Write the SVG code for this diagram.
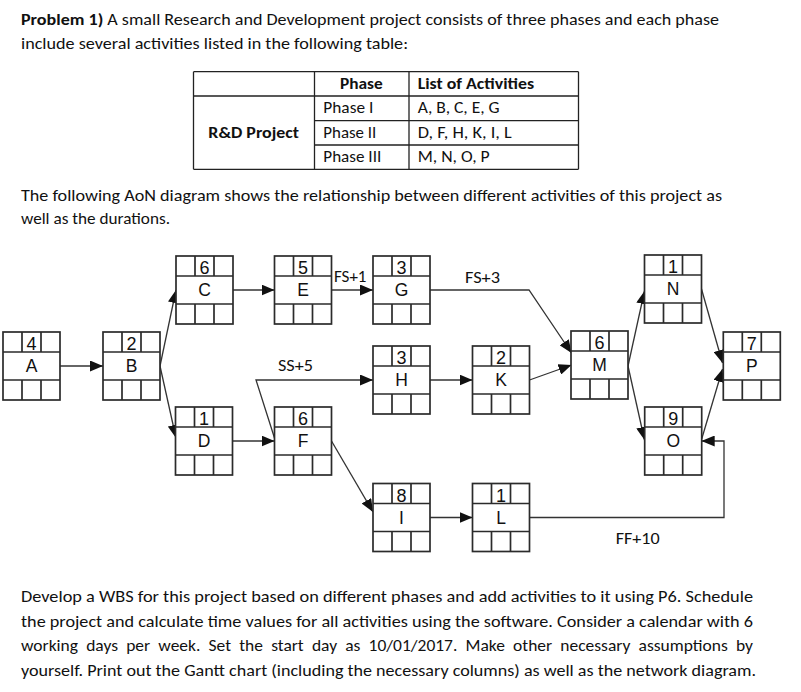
<svg xmlns="http://www.w3.org/2000/svg" xmlns:xlink="http://www.w3.org/1999/xlink" width="801" height="692" viewBox="0 0 801 692">
<style>
.p{font-family:Carlito,Lato,'Open Sans',sans-serif;font-size:16.5px;fill:#111}
.b{font-weight:bold}
.tb{stroke:#222;stroke-width:1.3;fill:none}
.bx{fill:#fff;stroke:#2b2b2b;stroke-width:1.7}
.ln{stroke:#2b2b2b;stroke-width:1.7;fill:none}
.d{font-family:'Liberation Sans',Arial,sans-serif;font-size:18px;fill:#111;text-anchor:middle}
.l{font-family:'Liberation Sans',Arial,sans-serif;font-size:17.5px;fill:#111;text-anchor:middle}
.c{stroke:#333;stroke-width:1.3;fill:none;marker-end:url(#ah)}
</style>
<defs>
<marker id="ah" markerUnits="userSpaceOnUse" viewBox="0 0 13 11" markerWidth="13" markerHeight="11" refX="13" refY="5.5" orient="auto">
<path d="M0,0 L13,5.5 L0,11 z" fill="#111"/>
</marker>
<g id="box">
<rect class="bx" x="0" y="0" width="57" height="68"/>
<path class="ln" d="M0,20 H57 M0,48 H57 M19,0 V20 M38,0 V20 M19,48 V68 M38,48 V68"/>
</g>
</defs>
<rect width="801" height="692" fill="#fff"/>

<g id="text-top">
<text class="p" x="21" y="25" textLength="698" lengthAdjust="spacingAndGlyphs"><tspan class="b">Problem 1)</tspan> A small Research and Development project consists of three phases and each phase</text>
<text class="p" x="21" y="49" textLength="387" lengthAdjust="spacingAndGlyphs">include several activities listed in the following table:</text>
<text class="p" x="21" y="201" textLength="701" lengthAdjust="spacingAndGlyphs">The following AoN diagram shows the relationship between different activities of this project as</text>
<text class="p" x="21" y="224" textLength="149" lengthAdjust="spacingAndGlyphs">well as the durations.</text>
</g>

<g id="table">
<path class="tb" d="M193.5,71.7 H578.5 M193.5,96 H578.5 M314.5,120.7 H578.5 M314.5,145 H578.5 M193.5,169.3 H578.5 M193.5,71.7 V169.3 M314.5,71.7 V169.3 M409,71.7 V169.3 M578.5,71.7 V169.3"/>
<text class="p b" x="340" y="88.5" textLength="42.7" lengthAdjust="spacingAndGlyphs">Phase</text>
<text class="p b" x="417.7" y="88.5" textLength="116.5" lengthAdjust="spacingAndGlyphs">List of Activities</text>
<text class="p" x="323.3" y="113.3" textLength="50" lengthAdjust="spacingAndGlyphs">Phase I</text>
<text class="p" x="417.7" y="113.3" textLength="82" lengthAdjust="spacingAndGlyphs">A, B, C, E, G</text>
<text class="p b" x="208.3" y="137.5" textLength="90.7" lengthAdjust="spacingAndGlyphs">R&amp;D Project</text>
<text class="p" x="323.3" y="137.5" textLength="53" lengthAdjust="spacingAndGlyphs">Phase II</text>
<text class="p" x="417.7" y="137.5" textLength="94" lengthAdjust="spacingAndGlyphs">D, F, H, K, I, L</text>
<text class="p" x="323.3" y="161.7" textLength="58" lengthAdjust="spacingAndGlyphs">Phase III</text>
<text class="p" x="417.7" y="161.7" textLength="72" lengthAdjust="spacingAndGlyphs">M, N, O, P</text>
</g>

<g id="connectors">
<path class="c" d="M60,366 L103,366"/>
<path class="c" d="M160,366 L176,290"/>
<path class="c" d="M160,366 L176,438"/>
<path class="c" d="M233,290 L274.5,290"/>
<path class="c" d="M331.5,290 L373,290"/>
<path class="c" d="M430,290 L529,290 L571.5,353"/>
<path class="c" d="M430,380 L472.5,380"/>
<path class="c" d="M529.5,380 L571.5,365"/>
<path class="c" d="M274.5,438 L256,380 L373,380"/>
<path class="c" d="M232.5,441 L274.5,441"/>
<path class="c" d="M331.5,441 L373,512"/>
<path class="c" d="M430,517.5 L472.5,517.5"/>
<path class="c" d="M529.5,517.5 L724,517.5 L724,441 L701.7,441"/>
<path class="c" d="M628,366 L644.5,291"/>
<path class="c" d="M628,366 L644.5,440"/>
<path class="c" d="M701.5,289 L722.5,363"/>
<path class="c" d="M701.7,439 L722.5,369"/>
<text class="p" x="334" y="282" textLength="32.5" lengthAdjust="spacingAndGlyphs">FS+1</text>
<text class="p" x="465" y="282.5" textLength="35" lengthAdjust="spacingAndGlyphs">FS+3</text>
<text class="p" x="278" y="370.5" textLength="35" lengthAdjust="spacingAndGlyphs">SS+5</text>
<text class="p" x="615.7" y="544" textLength="44" lengthAdjust="spacingAndGlyphs">FF+10</text>
</g>

<g id="node-A" transform="translate(3,332)"><use xlink:href="#box"/><text class="d" x="28.5" y="18">4</text><text class="l" x="28.5" y="40.3">A</text></g>
<g id="node-B" transform="translate(103,332)"><use xlink:href="#box"/><text class="d" x="28.5" y="18">2</text><text class="l" x="28.5" y="40.3">B</text></g>
<g id="node-C" transform="translate(176,256)"><use xlink:href="#box"/><text class="d" x="28.5" y="18">6</text><text class="l" x="28.5" y="40.3">C</text></g>
<g id="node-E" transform="translate(274.5,256)"><use xlink:href="#box"/><text class="d" x="28.5" y="18">5</text><text class="l" x="28.5" y="40.3">E</text></g>
<g id="node-G" transform="translate(373,256)"><use xlink:href="#box"/><text class="d" x="28.5" y="18">3</text><text class="l" x="28.5" y="40.3">G</text></g>
<g id="node-H" transform="translate(373,346)"><use xlink:href="#box"/><text class="d" x="28.5" y="18">3</text><text class="l" x="28.5" y="40.3">H</text></g>
<g id="node-K" transform="translate(472.5,346)"><use xlink:href="#box"/><text class="d" x="28.5" y="18">2</text><text class="l" x="28.5" y="40.3">K</text></g>
<g id="node-M" transform="translate(571,331)"><use xlink:href="#box"/><text class="d" x="28.5" y="18">6</text><text class="l" x="28.5" y="40.3">M</text></g>
<g id="node-N" transform="translate(644.5,255)"><use xlink:href="#box"/><text class="d" x="28.5" y="18">1</text><text class="l" x="28.5" y="40.3">N</text></g>
<g id="node-P" transform="translate(723.3,332)"><use xlink:href="#box"/><text class="d" x="28.5" y="18">7</text><text class="l" x="28.5" y="40.3">P</text></g>
<g id="node-D" transform="translate(175.5,407)"><use xlink:href="#box"/><text class="d" x="28.5" y="18">1</text><text class="l" x="28.5" y="40.3">D</text></g>
<g id="node-F" transform="translate(274.5,407)"><use xlink:href="#box"/><text class="d" x="28.5" y="18">6</text><text class="l" x="28.5" y="40.3">F</text></g>
<g id="node-I" transform="translate(373,483.5)"><use xlink:href="#box"/><text class="d" x="28.5" y="18">8</text><text class="l" x="28.5" y="40.3">I</text></g>
<g id="node-L" transform="translate(472.5,483.5)"><use xlink:href="#box"/><text class="d" x="28.5" y="18">1</text><text class="l" x="28.5" y="40.3">L</text></g>
<g id="node-O" transform="translate(644.7,407)"><use xlink:href="#box"/><text class="d" x="28.5" y="18">9</text><text class="l" x="28.5" y="40.3">O</text></g>

<g id="text-bottom">
<text class="p" x="21" y="602" textLength="732" lengthAdjust="spacingAndGlyphs">Develop a WBS for this project based on different phases and add activities to it using P6. Schedule</text>
<text class="p" x="21" y="626.5" textLength="732" lengthAdjust="spacingAndGlyphs">the project and calculate time values for all activities using the software. Consider a calendar with 6</text>
<text class="p" x="21" y="651" textLength="732" lengthAdjust="spacingAndGlyphs" word-spacing="4">working days per week. Set the start day as 10/01/2017. Make other necessary assumptions by</text>
<text class="p" x="21" y="675.5" textLength="735" lengthAdjust="spacingAndGlyphs">yourself. Print out the Gantt chart (including the necessary columns) as well as the network diagram.</text>
</g>
</svg>
